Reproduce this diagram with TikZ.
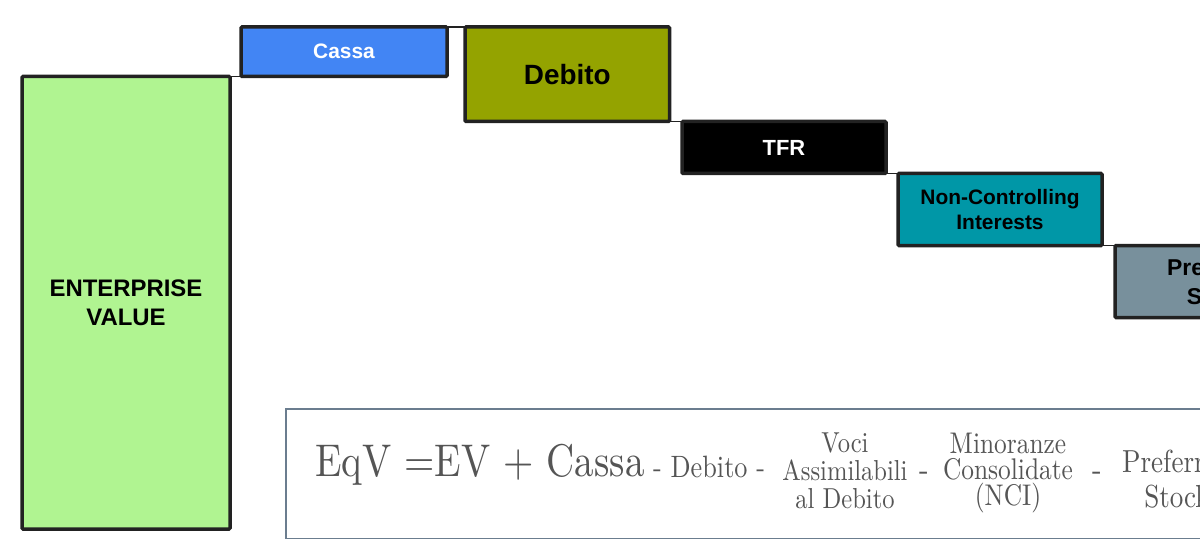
\documentclass[tikz,border=0pt]{standalone}
\usepackage{fontspec}
\setsansfont{Liberation Sans}
\newfontfamily\eqfont{lmroman10-regular.otf}[FakeStretch=0.85]
\usepackage{xcolor}
\usepackage{tikz}
\usetikzlibrary{positioning}

\definecolor{evgreen}{HTML}{B0F491}
\definecolor{cassablue}{HTML}{4285F4}
\definecolor{debolive}{HTML}{94A300}
\definecolor{ncicyan}{HTML}{0097A7}
\definecolor{prefgrey}{HTML}{78909C}
\definecolor{edge}{HTML}{222222}
\definecolor{eqgrey}{HTML}{555555}
\definecolor{eqline}{HTML}{6B7D8F}

\newcommand{\fsz}[2]{\fontsize{#1}{#2}\selectfont}

\begin{document}
\begin{tikzpicture}[
  x=1bp, y=-1bp,
  bar/.style={draw=edge, line width=3.5bp, rounded corners=1bp, minimum width=206bp,
              inner sep=0pt, outer sep=0pt, align=center, font=\sffamily\bfseries\fsz{22}{27}},
  link/.style={draw=edge, line width=1.5bp},
  eqbox/.style={draw=eqline, line width=1.5bp, inner sep=0pt},
  eqtext/.style={text=eqgrey, inner sep=0pt, align=center}
]
\useasboundingbox (0,0) rectangle (1200,560);
\clip (0,0) rectangle (1200,560);

% waterfall
\node[bar, fill=evgreen, minimum width=208bp, minimum height=452.5bp, anchor=north west,
      font=\sffamily\bfseries\fsz{24}{30}] (ev) at (22,76.5) {ENTERPRISE\\VALUE};
\node[bar, fill=cassablue, text=white, minimum height=49.5bp,
      above right=0bp and 11bp of ev.north east, font=\sffamily\bfseries\fsz{21}{25}] (cassa) {Cassa};
\node[bar, fill=debolive, minimum width=204.5bp, minimum height=94.5bp,
      below right=0bp and 18bp of cassa.north east, font=\sffamily\bfseries\fsz{28}{32}] (debito) {Debito};
\node[bar, fill=black, text=white, minimum width=204bp, minimum height=52bp,
      below right=0bp and 12.5bp of debito.south east] (tfr) {TFR};
\node[bar, fill=ncicyan, minimum width=204bp, minimum height=72bp,
      below right=0bp and 12bp of tfr.south east, font=\sffamily\bfseries\fsz{21}{25}] (nci) {Non-Controlling\\Interests};
\node[bar, fill=prefgrey, minimum height=72bp,
      below right=0bp and 13bp of nci.south east, font=\sffamily\bfseries\fsz{23}{29}] (pref) {Preferred\\Stock};

\draw[link] (ev.north east) -- (cassa.south west);
\draw[link] (cassa.north east) -- (debito.north west);
\draw[link] (debito.south east) -- (tfr.north west);
\draw[link] (tfr.south east) -- (nci.north west);
\draw[link] (nci.south east) -- (pref.north west);

% formula
\node[eqbox, minimum width=1000bp, minimum height=129bp, anchor=north west] (frame) at (285,408.5) {};
\node[eqtext, anchor=base west, font=\eqfont\fsz{46}{46}] (lhs) at (315,476) {EqV =EV + Cassa};
\node[eqtext, anchor=base west, font=\eqfont\fsz{31}{31}] (deb) at (653,477) {- Debito -};
\node[eqtext, anchor=base, font=\eqfont\fsz{29}{28}] (voci) at (845,508) {Voci\\Assimilabili\\al Debito};
\node[eqtext, anchor=base, font=\eqfont\fsz{34}{34}] (minus1) at (924,480) {-};
\node[eqtext, anchor=base, font=\eqfont\fsz{30}{26}] (nciq) at (1008,505) {Minoranze\\Consolidate\\(NCI)};
\node[eqtext, anchor=base, font=\eqfont\fsz{34}{34}] (minus2) at (1097,480) {-};
\node[eqtext, anchor=base, font=\eqfont\fsz{32}{35}] (prefq) at (1177,507) {Preferred\\Stock};
\end{tikzpicture}
\end{document}
